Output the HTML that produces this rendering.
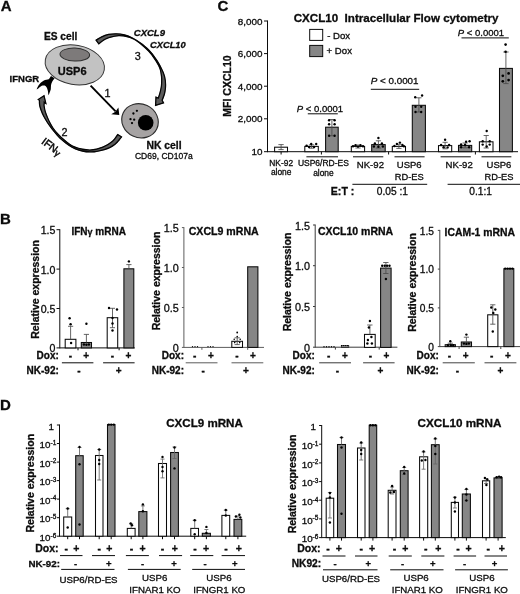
<!DOCTYPE html>
<html lang="en">
<head>
<meta charset="utf-8">
<title>Figure</title>
<style>
html, body { margin: 0; padding: 0; background: #ffffff; }
body { width: 520px; height: 594px; overflow: hidden; }
svg { display: block; }
svg text { font-family: "Liberation Sans", Arial, Helvetica, sans-serif; fill: #0c0c0c; stroke: #0c0c0c; stroke-width: 0.3px; }
</style>
</head>
<body>
<svg width="520" height="594" viewBox="0 0 520 594">
<rect x="0" y="0" width="520" height="594" fill="#ffffff"/>
<text x="0.8" y="11.4" font-size="15" font-weight="bold">A</text>
<text x="0.1" y="224.3" font-size="15" font-weight="bold">B</text>
<text x="217.4" y="11.3" font-size="15" font-weight="bold">C</text>
<text x="0.1" y="409.9" font-size="15" font-weight="bold">D</text>
<clipPath id="ca3"><path d="M95.2 40.1 C96.2 39.5 99.3 37.3 101.5 36.3 C103.7 35.2 106.0 34.3 108.5 33.8 C111.0 33.3 113.8 33.1 116.5 33.2 C119.2 33.3 121.9 33.6 124.6 34.3 C127.3 35.0 130.0 36.1 132.7 37.5 C135.4 38.9 138.0 40.4 140.8 42.4 C143.6 44.4 146.9 47.1 149.4 49.7 C151.9 52.3 154.0 55.2 156.1 58.2 C158.2 61.2 160.3 64.9 161.8 67.9 C163.3 70.9 164.5 73.6 165.2 76.4 C165.9 79.2 166.2 82.1 166.2 84.9 C166.2 87.7 165.8 90.9 165.2 93.4 C164.6 96.0 163.2 99.1 162.8 100.2 L164.4 103.2 L154.9 106.2 L155.4 96.2 L157.9 97.3 C158.2 96.5 159.0 94.3 159.5 92.2 C160.0 90.1 160.7 87.5 160.9 84.9 C161.1 82.3 161.2 79.2 160.9 76.4 C160.6 73.6 160.2 70.7 159.1 67.9 C158.0 65.1 156.1 62.1 154.3 59.4 C152.5 56.7 150.4 54.0 148.2 51.5 C145.9 49.0 143.2 46.7 140.8 44.7 C138.4 42.8 136.1 41.0 133.8 39.8 C131.5 38.5 129.4 37.8 126.9 37.2 C124.4 36.6 121.5 36.2 118.8 36.3 C116.1 36.4 113.3 37.1 110.8 37.8 C108.3 38.5 105.8 39.6 103.8 40.7 C101.8 41.9 99.5 44.0 98.7 44.7 Z"/></clipPath>
<path d="M95.2 40.1 C96.2 39.5 99.3 37.3 101.5 36.3 C103.7 35.2 106.0 34.3 108.5 33.8 C111.0 33.3 113.8 33.1 116.5 33.2 C119.2 33.3 121.9 33.6 124.6 34.3 C127.3 35.0 130.0 36.1 132.7 37.5 C135.4 38.9 138.0 40.4 140.8 42.4 C143.6 44.4 146.9 47.1 149.4 49.7 C151.9 52.3 154.0 55.2 156.1 58.2 C158.2 61.2 160.3 64.9 161.8 67.9 C163.3 70.9 164.5 73.6 165.2 76.4 C165.9 79.2 166.2 82.1 166.2 84.9 C166.2 87.7 165.8 90.9 165.2 93.4 C164.6 96.0 163.2 99.1 162.8 100.2 L164.4 103.2 L154.9 106.2 L155.4 96.2 L157.9 97.3 C158.2 96.5 159.0 94.3 159.5 92.2 C160.0 90.1 160.7 87.5 160.9 84.9 C161.1 82.3 161.2 79.2 160.9 76.4 C160.6 73.6 160.2 70.7 159.1 67.9 C158.0 65.1 156.1 62.1 154.3 59.4 C152.5 56.7 150.4 54.0 148.2 51.5 C145.9 49.0 143.2 46.7 140.8 44.7 C138.4 42.8 136.1 41.0 133.8 39.8 C131.5 38.5 129.4 37.8 126.9 37.2 C124.4 36.6 121.5 36.2 118.8 36.3 C116.1 36.4 113.3 37.1 110.8 37.8 C108.3 38.5 105.8 39.6 103.8 40.7 C101.8 41.9 99.5 44.0 98.7 44.7 Z" fill="#5a5a5a" stroke="#050505" stroke-width="2.5" stroke-linejoin="miter" clip-path="url(#ca3)"/>
<clipPath id="ca2"><path d="M122.4 136.8 C121.2 138.1 118.4 142.6 115.4 144.8 C112.4 147.1 108.8 149.0 104.5 150.3 C100.2 151.6 94.7 152.8 89.8 152.6 C84.9 152.4 79.8 151.3 75.2 149.4 C70.6 147.5 66.3 144.4 62.4 141.1 C58.4 137.8 54.7 133.4 51.5 129.3 C48.3 125.2 45.2 120.3 43.2 116.5 C41.2 112.7 40.0 109.2 39.3 106.5 C38.6 103.8 38.9 101.6 38.8 100.6 L37.2 99.5 L44.4 94.8 L46.8 104.7 L44.8 103.4 C44.8 103.9 44.4 104.6 44.8 106.5 C45.1 108.4 45.5 111.1 46.9 114.6 C48.3 118.1 50.4 123.3 53.3 127.4 C56.2 131.5 60.6 136.1 64.3 139.3 C68.0 142.5 71.0 144.9 75.2 146.6 C79.5 148.3 85.2 149.4 89.8 149.4 C94.4 149.4 98.9 148.0 102.6 146.6 C106.3 145.2 109.3 143.2 111.8 141.1 C114.3 139.0 116.6 135.0 117.6 133.8 Z"/></clipPath>
<path d="M122.4 136.8 C121.2 138.1 118.4 142.6 115.4 144.8 C112.4 147.1 108.8 149.0 104.5 150.3 C100.2 151.6 94.7 152.8 89.8 152.6 C84.9 152.4 79.8 151.3 75.2 149.4 C70.6 147.5 66.3 144.4 62.4 141.1 C58.4 137.8 54.7 133.4 51.5 129.3 C48.3 125.2 45.2 120.3 43.2 116.5 C41.2 112.7 40.0 109.2 39.3 106.5 C38.6 103.8 38.9 101.6 38.8 100.6 L37.2 99.5 L44.4 94.8 L46.8 104.7 L44.8 103.4 C44.8 103.9 44.4 104.6 44.8 106.5 C45.1 108.4 45.5 111.1 46.9 114.6 C48.3 118.1 50.4 123.3 53.3 127.4 C56.2 131.5 60.6 136.1 64.3 139.3 C68.0 142.5 71.0 144.9 75.2 146.6 C79.5 148.3 85.2 149.4 89.8 149.4 C94.4 149.4 98.9 148.0 102.6 146.6 C106.3 145.2 109.3 143.2 111.8 141.1 C114.3 139.0 116.6 135.0 117.6 133.8 Z" fill="#5a5a5a" stroke="#050505" stroke-width="2.5" stroke-linejoin="miter" clip-path="url(#ca2)"/>
<ellipse cx="74.8" cy="64.8" rx="29.9" ry="19.7" transform="rotate(10 74.8 64.8)" fill="#c2c2c2" stroke="#333" stroke-width="1"/>
<ellipse cx="74.8" cy="54.6" rx="14.8" ry="6.5" transform="rotate(2 74.8 54.6)" fill="#7d7a7a" stroke="#2e2e2e" stroke-width="1"/>
<text x="72.2" y="74.8" font-size="11" font-weight="bold" text-anchor="middle">USP6</text>
<text x="60.6" y="40.2" font-size="10.2" font-weight="bold" text-anchor="middle">ES cell</text>
<text x="24.4" y="81.8" font-size="9.5" font-weight="bold" text-anchor="middle">IFNGR</text>
<path d="M36.6 89.4 C36.9 88.8 37.6 86.9 38.3 85.8 C39.0 84.7 39.8 83.5 40.7 82.7 C41.6 81.9 42.5 81.2 43.5 80.7 C44.5 80.2 45.5 80.0 46.4 79.8 C47.3 79.5 48.1 79.5 48.7 79.2 C49.3 78.9 49.5 78.3 49.9 77.8 C50.3 77.3 50.8 76.3 51.0 76.0 L54.6 78.2 C54.2 78.8 52.8 80.6 52.2 81.8 C51.6 83.0 51.2 84.0 51.0 85.3 C50.8 86.5 51.0 87.9 50.8 89.3 C50.5 90.7 49.7 92.4 49.3 93.4 C48.9 94.4 48.5 94.9 48.4 95.2 L47.9 91.0 C47.7 90.4 47.2 88.5 46.7 87.6 C46.2 86.7 45.5 85.9 44.7 85.6 C43.9 85.3 42.8 85.4 41.8 85.8 C40.8 86.2 39.8 87.3 38.9 87.9 C38.0 88.5 37.0 89.2 36.6 89.4 Z" fill="#000"/>
<line x1="90.6" y1="85.6" x2="115.6" y2="111.4" stroke="#000" stroke-width="1.9"/>
<path d="M119.3 115.1 L111.2 114.3 L115.4 111.8 L118.4 107.5 Z" fill="#000"/>
<text x="107.5" y="96.5" font-size="10.8" text-anchor="middle">1</text>
<text x="64.6" y="136.1" font-size="10.8" text-anchor="middle">2</text>
<text x="137.7" y="59.8" font-size="10.8" text-anchor="middle">3</text>
<ellipse cx="140.0" cy="120.8" rx="18.6" ry="16.8" transform="rotate(25 140 120.8)" fill="#a6a3a3" stroke="#2c2c2c" stroke-width="1.1"/>
<circle cx="145.7" cy="122.8" r="7.8" fill="#000"/>
<circle cx="136.9" cy="110.8" r="1.15" fill="#000"/>
<circle cx="133.4" cy="113.5" r="1.15" fill="#000"/>
<circle cx="130.5" cy="119.2" r="1.15" fill="#000"/>
<circle cx="134.2" cy="119.7" r="1.15" fill="#000"/>
<circle cx="132.0" cy="123.1" r="1.15" fill="#000"/>
<text x="164.0" y="149.3" font-size="10.4" font-weight="bold" text-anchor="middle">NK cell</text>
<text x="163.8" y="159.3" font-size="8.5" text-anchor="middle">CD69, CD107a</text>
<text x="133.8" y="36.4" font-size="9.5" font-weight="bold" font-style="italic">CXCL9</text>
<text x="150.0" y="48.0" font-size="9.3" font-weight="bold" font-style="italic">CXCL10</text>
<text transform="translate(40.8 142.9) rotate(37)" font-size="10.6" style="stroke-width:0.5px">IFN<tspan font-size="9" dy="1.2">γ</tspan></text>
<line x1="267.5" y1="20.5" x2="267.5" y2="152.2" stroke="#0c0c0c" stroke-width="1"/>
<line x1="267.5" y1="151.7" x2="518.0" y2="151.7" stroke="#0c0c0c" stroke-width="1"/>
<line x1="264.0" y1="21.0" x2="267.5" y2="21.0" stroke="#0c0c0c" stroke-width="1"/>
<text x="262.5" y="24.5" font-size="9.9" text-anchor="end">8,000</text>
<line x1="264.0" y1="53.6" x2="267.5" y2="53.6" stroke="#0c0c0c" stroke-width="1"/>
<text x="262.5" y="57.1" font-size="9.9" text-anchor="end">6,000</text>
<line x1="264.0" y1="86.2" x2="267.5" y2="86.2" stroke="#0c0c0c" stroke-width="1"/>
<text x="262.5" y="89.7" font-size="9.9" text-anchor="end">4,000</text>
<line x1="264.0" y1="118.8" x2="267.5" y2="118.8" stroke="#0c0c0c" stroke-width="1"/>
<text x="262.5" y="122.3" font-size="9.9" text-anchor="end">2,000</text>
<line x1="264.0" y1="151.7" x2="267.5" y2="151.7" stroke="#0c0c0c" stroke-width="1"/>
<text x="262.5" y="155.2" font-size="9.9" text-anchor="end">10</text>
<text transform="translate(231.3 86.0) rotate(-90)" text-anchor="middle" font-size="10.5" font-weight="bold">MFI CXCL10</text>
<text x="293.7" y="21.8" font-size="11.6" font-weight="bold">CXCL10&#160; Intracellular Flow cytometry</text>
<rect x="309.7" y="29.4" width="13.0" height="11.0" fill="#fff" stroke="#0a0a0a" stroke-width="1"/>
<rect x="309.7" y="45.4" width="13.0" height="11.2" fill="#868686" stroke="#0a0a0a" stroke-width="1"/>
<text x="327.2" y="38.8" font-size="9.6">- Dox</text>
<text x="326.6" y="54.2" font-size="9.6">+ Dox</text>
<rect x="274.6" y="147.2" width="12.9" height="4.5" fill="#fff" stroke="#0a0a0a" stroke-width="1.05"/>
<line x1="281.1" y1="144.6" x2="281.1" y2="149.6" stroke="#4a4a4a" stroke-width="0.85"/>
<line x1="278.4" y1="144.6" x2="283.7" y2="144.6" stroke="#4a4a4a" stroke-width="0.85"/>
<line x1="278.4" y1="149.6" x2="283.7" y2="149.6" stroke="#4a4a4a" stroke-width="0.85"/>
<rect x="304.8" y="146.4" width="13.5" height="5.3" fill="#fff" stroke="#0a0a0a" stroke-width="1.05"/>
<line x1="311.6" y1="144.8" x2="311.6" y2="148.2" stroke="#4a4a4a" stroke-width="0.85"/>
<line x1="308.9" y1="144.8" x2="314.2" y2="144.8" stroke="#4a4a4a" stroke-width="0.85"/>
<line x1="308.9" y1="148.2" x2="314.2" y2="148.2" stroke="#4a4a4a" stroke-width="0.85"/>
<circle cx="306.6" cy="145.6" r="1.2" fill="#000"/>
<circle cx="311.2" cy="144.0" r="1.2" fill="#000"/>
<circle cx="316.2" cy="144.0" r="1.2" fill="#000"/>
<circle cx="309.1" cy="147.0" r="1.2" fill="#000"/>
<circle cx="314.1" cy="147.0" r="1.2" fill="#000"/>
<rect x="325.6" y="127.2" width="12.6" height="24.5" fill="#868686" stroke="#0a0a0a" stroke-width="1.05"/>
<line x1="331.9" y1="119.5" x2="331.9" y2="135.8" stroke="#4a4a4a" stroke-width="0.85"/>
<line x1="329.3" y1="119.5" x2="334.5" y2="119.5" stroke="#4a4a4a" stroke-width="0.85"/>
<line x1="329.3" y1="135.8" x2="334.5" y2="135.8" stroke="#4a4a4a" stroke-width="0.85"/>
<circle cx="329.1" cy="120.2" r="1.2" fill="#000"/>
<circle cx="334.6" cy="120.2" r="1.2" fill="#000"/>
<circle cx="329.1" cy="124.3" r="1.2" fill="#000"/>
<circle cx="334.6" cy="124.3" r="1.2" fill="#000"/>
<circle cx="329.1" cy="135.8" r="1.2" fill="#000"/>
<circle cx="334.6" cy="135.8" r="1.2" fill="#000"/>
<rect x="351.3" y="146.4" width="13.3" height="5.3" fill="#fff" stroke="#0a0a0a" stroke-width="1.05"/>
<line x1="358.0" y1="145.0" x2="358.0" y2="148.0" stroke="#4a4a4a" stroke-width="0.85"/>
<line x1="355.4" y1="145.0" x2="360.6" y2="145.0" stroke="#4a4a4a" stroke-width="0.85"/>
<line x1="355.4" y1="148.0" x2="360.6" y2="148.0" stroke="#4a4a4a" stroke-width="0.85"/>
<circle cx="353.0" cy="146.2" r="1.2" fill="#000"/>
<circle cx="355.5" cy="145.2" r="1.2" fill="#000"/>
<circle cx="358.0" cy="146.6" r="1.2" fill="#000"/>
<circle cx="360.5" cy="145.2" r="1.2" fill="#000"/>
<circle cx="363.0" cy="146.2" r="1.2" fill="#000"/>
<rect x="371.7" y="144.6" width="13.5" height="7.1" fill="#868686" stroke="#0a0a0a" stroke-width="1.05"/>
<line x1="378.4" y1="140.8" x2="378.4" y2="148.0" stroke="#4a4a4a" stroke-width="0.85"/>
<line x1="375.8" y1="140.8" x2="381.1" y2="140.8" stroke="#4a4a4a" stroke-width="0.85"/>
<line x1="375.8" y1="148.0" x2="381.1" y2="148.0" stroke="#4a4a4a" stroke-width="0.85"/>
<circle cx="378.4" cy="138.0" r="1.2" fill="#000"/>
<circle cx="374.9" cy="143.5" r="1.2" fill="#000"/>
<circle cx="381.9" cy="143.5" r="1.2" fill="#000"/>
<circle cx="373.9" cy="146.5" r="1.2" fill="#000"/>
<circle cx="378.4" cy="146.8" r="1.2" fill="#000"/>
<circle cx="382.9" cy="146.5" r="1.2" fill="#000"/>
<rect x="392.3" y="146.4" width="13.2" height="5.3" fill="#fff" stroke="#0a0a0a" stroke-width="1.05"/>
<line x1="398.9" y1="144.2" x2="398.9" y2="148.4" stroke="#4a4a4a" stroke-width="0.85"/>
<line x1="396.3" y1="144.2" x2="401.5" y2="144.2" stroke="#4a4a4a" stroke-width="0.85"/>
<line x1="396.3" y1="148.4" x2="401.5" y2="148.4" stroke="#4a4a4a" stroke-width="0.85"/>
<circle cx="394.4" cy="146.0" r="1.2" fill="#000"/>
<circle cx="396.9" cy="144.0" r="1.2" fill="#000"/>
<circle cx="399.9" cy="142.6" r="1.2" fill="#000"/>
<circle cx="402.4" cy="145.0" r="1.2" fill="#000"/>
<circle cx="403.9" cy="146.2" r="1.2" fill="#000"/>
<rect x="412.3" y="105.3" width="13.1" height="46.4" fill="#868686" stroke="#0a0a0a" stroke-width="1.05"/>
<line x1="418.9" y1="97.8" x2="418.9" y2="112.0" stroke="#4a4a4a" stroke-width="0.85"/>
<line x1="416.2" y1="97.8" x2="421.5" y2="97.8" stroke="#4a4a4a" stroke-width="0.85"/>
<line x1="416.2" y1="112.0" x2="421.5" y2="112.0" stroke="#4a4a4a" stroke-width="0.85"/>
<circle cx="415.2" cy="97.3" r="1.2" fill="#000"/>
<circle cx="422.1" cy="95.5" r="1.2" fill="#000"/>
<circle cx="415.5" cy="106.8" r="1.2" fill="#000"/>
<circle cx="421.2" cy="106.8" r="1.2" fill="#000"/>
<circle cx="415.5" cy="112.0" r="1.2" fill="#000"/>
<circle cx="421.2" cy="112.0" r="1.2" fill="#000"/>
<rect x="438.5" y="145.6" width="13.2" height="6.1" fill="#fff" stroke="#0a0a0a" stroke-width="1.05"/>
<line x1="445.1" y1="142.3" x2="445.1" y2="148.8" stroke="#4a4a4a" stroke-width="0.85"/>
<line x1="442.5" y1="142.3" x2="447.7" y2="142.3" stroke="#4a4a4a" stroke-width="0.85"/>
<line x1="442.5" y1="148.8" x2="447.7" y2="148.8" stroke="#4a4a4a" stroke-width="0.85"/>
<circle cx="445.1" cy="139.8" r="1.2" fill="#000"/>
<circle cx="441.1" cy="145.0" r="1.2" fill="#000"/>
<circle cx="449.1" cy="145.0" r="1.2" fill="#000"/>
<circle cx="443.6" cy="147.2" r="1.2" fill="#000"/>
<circle cx="447.6" cy="147.4" r="1.2" fill="#000"/>
<rect x="458.5" y="145.4" width="13.2" height="6.3" fill="#868686" stroke="#0a0a0a" stroke-width="1.05"/>
<line x1="465.1" y1="143.0" x2="465.1" y2="147.8" stroke="#4a4a4a" stroke-width="0.85"/>
<line x1="462.5" y1="143.0" x2="467.7" y2="143.0" stroke="#4a4a4a" stroke-width="0.85"/>
<line x1="462.5" y1="147.8" x2="467.7" y2="147.8" stroke="#4a4a4a" stroke-width="0.85"/>
<circle cx="466.1" cy="141.8" r="1.2" fill="#000"/>
<circle cx="469.6" cy="141.2" r="1.2" fill="#000"/>
<circle cx="461.1" cy="144.5" r="1.2" fill="#000"/>
<circle cx="465.1" cy="145.0" r="1.2" fill="#000"/>
<circle cx="461.1" cy="147.3" r="1.2" fill="#000"/>
<circle cx="469.1" cy="147.3" r="1.2" fill="#000"/>
<rect x="479.4" y="141.8" width="13.6" height="9.9" fill="#fff" stroke="#0a0a0a" stroke-width="1.05"/>
<line x1="486.2" y1="135.5" x2="486.2" y2="148.0" stroke="#4a4a4a" stroke-width="0.85"/>
<line x1="483.6" y1="135.5" x2="488.8" y2="135.5" stroke="#4a4a4a" stroke-width="0.85"/>
<line x1="483.6" y1="148.0" x2="488.8" y2="148.0" stroke="#4a4a4a" stroke-width="0.85"/>
<circle cx="486.7" cy="131.0" r="1.2" fill="#000"/>
<circle cx="482.7" cy="141.3" r="1.2" fill="#000"/>
<circle cx="489.7" cy="141.3" r="1.2" fill="#000"/>
<circle cx="482.7" cy="144.6" r="1.2" fill="#000"/>
<circle cx="486.7" cy="146.5" r="1.2" fill="#000"/>
<circle cx="489.7" cy="144.6" r="1.2" fill="#000"/>
<rect x="499.5" y="68.4" width="12.9" height="83.3" fill="#868686" stroke="#0a0a0a" stroke-width="1.05"/>
<line x1="505.9" y1="52.0" x2="505.9" y2="83.6" stroke="#4a4a4a" stroke-width="0.85"/>
<line x1="503.3" y1="52.0" x2="508.6" y2="52.0" stroke="#4a4a4a" stroke-width="0.85"/>
<line x1="503.3" y1="83.6" x2="508.6" y2="83.6" stroke="#4a4a4a" stroke-width="0.85"/>
<circle cx="505.6" cy="44.6" r="1.3" fill="#000"/>
<circle cx="505.6" cy="51.8" r="1.3" fill="#000"/>
<circle cx="508.6" cy="73.4" r="1.35" fill="#000"/>
<circle cx="502.8" cy="75.8" r="1.35" fill="#000"/>
<circle cx="508.6" cy="80.1" r="1.35" fill="#000"/>
<circle cx="502.8" cy="81.3" r="1.35" fill="#000"/>
<line x1="281.1" y1="151.7" x2="281.1" y2="154.5" stroke="#0c0c0c" stroke-width="1"/>
<line x1="321.4" y1="151.7" x2="321.4" y2="154.5" stroke="#0c0c0c" stroke-width="1"/>
<line x1="388.6" y1="151.7" x2="388.6" y2="154.5" stroke="#0c0c0c" stroke-width="1"/>
<line x1="475.4" y1="151.7" x2="475.4" y2="154.5" stroke="#0c0c0c" stroke-width="1"/>
<text x="296.8" y="111.6" font-size="9.5"><tspan font-style="italic">P</tspan> &lt; 0.0001</text>
<line x1="307.8" y1="113.8" x2="337.8" y2="113.8" stroke="#0c0c0c" stroke-width="1"/>
<text x="370.8" y="83.5" font-size="9.8"><tspan font-style="italic">P</tspan> &lt; 0.0001</text>
<line x1="370.8" y1="89.3" x2="419.2" y2="89.3" stroke="#0c0c0c" stroke-width="1"/>
<text x="457.8" y="35.6" font-size="9.5"><tspan font-style="italic">P</tspan> &lt; 0.0001</text>
<line x1="461.5" y1="37.9" x2="508.8" y2="37.9" stroke="#0c0c0c" stroke-width="1"/>
<line x1="306.4" y1="156.8" x2="338.0" y2="156.8" stroke="#0c0c0c" stroke-width="1"/>
<line x1="353.0" y1="156.8" x2="383.3" y2="156.8" stroke="#0c0c0c" stroke-width="1"/>
<line x1="394.5" y1="156.8" x2="424.6" y2="156.8" stroke="#0c0c0c" stroke-width="1"/>
<line x1="440.6" y1="156.8" x2="470.8" y2="156.8" stroke="#0c0c0c" stroke-width="1"/>
<line x1="481.5" y1="156.8" x2="511.4" y2="156.8" stroke="#0c0c0c" stroke-width="1"/>
<text x="281.2" y="165.6" font-size="8.4" text-anchor="middle">NK-92</text>
<text x="281.2" y="175.4" font-size="8.4" text-anchor="middle">alone</text>
<text x="323.4" y="166.4" font-size="8.5" text-anchor="middle">USP6/RD-ES</text>
<text x="323.4" y="176.4" font-size="8.4" text-anchor="middle">alone</text>
<text x="370.4" y="168.4" font-size="9.6" text-anchor="middle">NK-92</text>
<text x="409.2" y="168.2" font-size="9.5" text-anchor="middle">USP6</text>
<text x="409.2" y="180.1" font-size="9.3" text-anchor="middle">RD-ES</text>
<text x="459.2" y="168.4" font-size="9.6" text-anchor="middle">NK-92</text>
<text x="499.0" y="168.2" font-size="9.5" text-anchor="middle">USP6</text>
<text x="499.0" y="180.1" font-size="9.3" text-anchor="middle">RD-ES</text>
<line x1="352.4" y1="184.3" x2="427.2" y2="184.3" stroke="#0c0c0c" stroke-width="1"/>
<line x1="447.6" y1="184.3" x2="520.0" y2="184.3" stroke="#0c0c0c" stroke-width="1"/>
<text x="330.8" y="195.0" font-size="10.6" font-weight="bold">E:T :</text>
<text x="392.3" y="195.1" font-size="10.2" text-anchor="middle">0.05 :1</text>
<text x="480.6" y="195.1" font-size="10.2" text-anchor="middle">0.1:1</text>
<line x1="59.8" y1="229.2" x2="59.8" y2="348.4" stroke="#0c0c0c" stroke-width="1"/>
<line x1="59.8" y1="347.9" x2="134.8" y2="347.9" stroke="#0c0c0c" stroke-width="1"/>
<line x1="56.5" y1="347.9" x2="59.8" y2="347.9" stroke="#0c0c0c" stroke-width="1"/>
<text x="55.4" y="352.3" font-size="10.6" text-anchor="end">0</text>
<line x1="56.5" y1="308.5" x2="59.8" y2="308.5" stroke="#0c0c0c" stroke-width="1"/>
<text x="55.4" y="312.9" font-size="10.6" text-anchor="end">0.5</text>
<line x1="56.5" y1="269.1" x2="59.8" y2="269.1" stroke="#0c0c0c" stroke-width="1"/>
<text x="55.4" y="273.5" font-size="10.6" text-anchor="end">1.0</text>
<line x1="56.5" y1="229.7" x2="59.8" y2="229.7" stroke="#0c0c0c" stroke-width="1"/>
<text x="55.4" y="234.1" font-size="10.6" text-anchor="end">1.5</text>
<text x="71.4" y="235.4" font-size="10" font-weight="bold">IFN<tspan font-size="9">γ</tspan> mRNA</text>
<text transform="translate(38.8 289.4) rotate(-90)" text-anchor="middle" font-size="10.5" font-weight="bold">Relative expression</text>
<rect x="65.2" y="339.3" width="10.7" height="8.6" fill="#fff" stroke="#0a0a0a" stroke-width="1.05"/>
<line x1="70.6" y1="326.3" x2="70.6" y2="339.3" stroke="#4a4a4a" stroke-width="0.85"/>
<line x1="68.0" y1="326.3" x2="73.2" y2="326.3" stroke="#4a4a4a" stroke-width="0.85"/>
<circle cx="69.6" cy="318.3" r="1.2" fill="#000"/>
<circle cx="70.6" cy="324.2" r="1.2" fill="#000"/>
<circle cx="71.1" cy="343.0" r="1.2" fill="#000"/>
<rect x="81.3" y="342.5" width="10.2" height="5.4" fill="#868686" stroke="#0a0a0a" stroke-width="1.05"/>
<line x1="86.4" y1="334.4" x2="86.4" y2="342.5" stroke="#4a4a4a" stroke-width="0.85"/>
<line x1="83.8" y1="334.4" x2="89.0" y2="334.4" stroke="#4a4a4a" stroke-width="0.85"/>
<circle cx="86.4" cy="323.7" r="1.2" fill="#000"/>
<circle cx="83.9" cy="344.5" r="1.2" fill="#000"/>
<circle cx="86.4" cy="344.8" r="1.2" fill="#000"/>
<circle cx="88.9" cy="344.5" r="1.2" fill="#000"/>
<rect x="107.2" y="317.7" width="10.5" height="30.2" fill="#fff" stroke="#0a0a0a" stroke-width="1.05"/>
<line x1="112.5" y1="308.3" x2="112.5" y2="327.7" stroke="#4a4a4a" stroke-width="0.85"/>
<line x1="109.9" y1="308.3" x2="115.0" y2="308.3" stroke="#4a4a4a" stroke-width="0.85"/>
<line x1="109.9" y1="327.7" x2="115.0" y2="327.7" stroke="#4a4a4a" stroke-width="0.85"/>
<circle cx="109.0" cy="308.0" r="1.2" fill="#000"/>
<circle cx="117.0" cy="309.5" r="1.2" fill="#000"/>
<circle cx="112.5" cy="318.0" r="1.2" fill="#000"/>
<circle cx="112.5" cy="323.5" r="1.2" fill="#000"/>
<circle cx="112.5" cy="330.5" r="1.2" fill="#000"/>
<rect x="123.9" y="268.8" width="9.9" height="79.1" fill="#868686" stroke="#0a0a0a" stroke-width="1.05"/>
<line x1="128.9" y1="264.6" x2="128.9" y2="268.8" stroke="#4a4a4a" stroke-width="0.85"/>
<line x1="126.3" y1="264.6" x2="131.5" y2="264.6" stroke="#4a4a4a" stroke-width="0.85"/>
<circle cx="128.9" cy="261.4" r="1.2" fill="#000"/>
<text x="58.8" y="358.9" font-size="10" font-weight="bold" text-anchor="end">Dox:</text>
<text x="58.8" y="373.8" font-size="10" font-weight="bold" text-anchor="end">NK-92:</text>
<text x="70.5" y="359.2" font-size="10" font-weight="bold" text-anchor="middle">-</text>
<text x="86.2" y="359.0" font-size="10" font-weight="bold" text-anchor="middle">+</text>
<text x="112.3" y="359.2" font-size="10" font-weight="bold" text-anchor="middle">-</text>
<text x="128.4" y="359.0" font-size="10" font-weight="bold" text-anchor="middle">+</text>
<line x1="61.9" y1="362.8" x2="93.4" y2="362.8" stroke="#0c0c0c" stroke-width="1"/>
<line x1="78.0" y1="347.9" x2="78.0" y2="350.3" stroke="#0c0c0c" stroke-width="1"/>
<line x1="103.1" y1="362.8" x2="134.6" y2="362.8" stroke="#0c0c0c" stroke-width="1"/>
<line x1="119.1" y1="347.9" x2="119.1" y2="350.3" stroke="#0c0c0c" stroke-width="1"/>
<text x="78.9" y="374.0" font-size="10" font-weight="bold" text-anchor="middle">-</text>
<text x="118.7" y="373.8" font-size="10" font-weight="bold" text-anchor="middle">+</text>
<line x1="183.9" y1="227.1" x2="183.9" y2="347.9" stroke="#5c5c5c" stroke-width="1"/>
<line x1="183.9" y1="347.4" x2="264.0" y2="347.4" stroke="#5c5c5c" stroke-width="1"/>
<line x1="181.9" y1="347.4" x2="183.9" y2="347.4" stroke="#5c5c5c" stroke-width="1"/>
<text x="178.8" y="351.9" font-size="10.8" text-anchor="end">0</text>
<line x1="181.9" y1="307.5" x2="183.9" y2="307.5" stroke="#5c5c5c" stroke-width="1"/>
<text x="178.8" y="311.9" font-size="10.8" text-anchor="end">0.5</text>
<line x1="181.9" y1="267.5" x2="183.9" y2="267.5" stroke="#5c5c5c" stroke-width="1"/>
<text x="178.8" y="272.0" font-size="10.8" text-anchor="end">1.0</text>
<line x1="181.9" y1="227.6" x2="183.9" y2="227.6" stroke="#5c5c5c" stroke-width="1"/>
<text x="178.8" y="232.1" font-size="10.8" text-anchor="end">1.5</text>
<text x="188.7" y="235.1" font-size="10.6" font-weight="bold">CXCL9 mRNA</text>
<text transform="translate(159.8 281.0) rotate(-90)" text-anchor="middle" font-size="10.5" font-weight="bold">Relative expression</text>
<rect x="231.8" y="341.3" width="10.7" height="6.1" fill="#fff" stroke="#0a0a0a" stroke-width="1.05"/>
<line x1="237.2" y1="337.8" x2="237.2" y2="344.6" stroke="#4a4a4a" stroke-width="0.85"/>
<line x1="234.6" y1="337.8" x2="239.8" y2="337.8" stroke="#4a4a4a" stroke-width="0.85"/>
<line x1="234.6" y1="344.6" x2="239.8" y2="344.6" stroke="#4a4a4a" stroke-width="0.85"/>
<circle cx="237.2" cy="332.5" r="0.9" fill="#000"/>
<circle cx="234.2" cy="339.2" r="0.8" fill="#000"/>
<circle cx="240.2" cy="339.2" r="0.8" fill="#000"/>
<circle cx="237.2" cy="336.6" r="0.8" fill="#000"/>
<circle cx="234.7" cy="342.6" r="0.8" fill="#000"/>
<circle cx="239.7" cy="342.6" r="0.8" fill="#000"/>
<rect x="247.7" y="266.8" width="10.2" height="80.6" fill="#868686" stroke="#0a0a0a" stroke-width="1.05"/>
<text x="184.0" y="358.9" font-size="10" font-weight="bold" text-anchor="end">Dox:</text>
<text x="184.0" y="373.8" font-size="10" font-weight="bold" text-anchor="end">NK-92:</text>
<text x="194.6" y="359.2" font-size="10" font-weight="bold" text-anchor="middle">-</text>
<text x="210.8" y="359.0" font-size="10" font-weight="bold" text-anchor="middle">+</text>
<text x="236.9" y="359.2" font-size="10" font-weight="bold" text-anchor="middle">-</text>
<text x="253.0" y="359.0" font-size="10" font-weight="bold" text-anchor="middle">+</text>
<line x1="185.7" y1="362.8" x2="217.5" y2="362.8" stroke="#5c5c5c" stroke-width="1"/>
<line x1="201.9" y1="347.4" x2="201.9" y2="349.8" stroke="#5c5c5c" stroke-width="1"/>
<line x1="231.5" y1="362.8" x2="263.3" y2="362.8" stroke="#5c5c5c" stroke-width="1"/>
<line x1="247.7" y1="347.4" x2="247.7" y2="349.8" stroke="#5c5c5c" stroke-width="1"/>
<text x="203.2" y="374.0" font-size="10" font-weight="bold" text-anchor="middle">-</text>
<text x="245.8" y="373.8" font-size="10" font-weight="bold" text-anchor="middle">+</text>
<line x1="315.2" y1="224.5" x2="315.2" y2="347.7" stroke="#3a3a3a" stroke-width="1"/>
<line x1="315.2" y1="347.2" x2="397.4" y2="347.2" stroke="#3a3a3a" stroke-width="1"/>
<line x1="313.0" y1="347.2" x2="315.2" y2="347.2" stroke="#3a3a3a" stroke-width="1"/>
<text x="310.0" y="351.7" font-size="10.8" text-anchor="end">0</text>
<line x1="313.0" y1="306.5" x2="315.2" y2="306.5" stroke="#3a3a3a" stroke-width="1"/>
<text x="310.0" y="310.9" font-size="10.8" text-anchor="end">0.5</text>
<line x1="313.0" y1="265.7" x2="315.2" y2="265.7" stroke="#3a3a3a" stroke-width="1"/>
<text x="310.0" y="270.2" font-size="10.8" text-anchor="end">1.0</text>
<line x1="313.0" y1="225.0" x2="315.2" y2="225.0" stroke="#3a3a3a" stroke-width="1"/>
<text x="310.0" y="229.5" font-size="10.8" text-anchor="end">1.5</text>
<text x="317.9" y="235.1" font-size="10.5" font-weight="bold">CXCL10 mRNA</text>
<text transform="translate(290.8 282.0) rotate(-90)" text-anchor="middle" font-size="10.5" font-weight="bold">Relative expression</text>
<rect x="364.5" y="334.4" width="10.7" height="13.0" fill="#fff" stroke="#0a0a0a" stroke-width="1.05"/>
<line x1="369.9" y1="325.0" x2="369.9" y2="334.4" stroke="#4a4a4a" stroke-width="0.85"/>
<line x1="367.2" y1="325.0" x2="372.5" y2="325.0" stroke="#4a4a4a" stroke-width="0.85"/>
<circle cx="369.9" cy="321.0" r="1.2" fill="#000"/>
<circle cx="368.9" cy="327.5" r="1.2" fill="#000"/>
<circle cx="371.4" cy="337.0" r="1.2" fill="#000"/>
<circle cx="367.9" cy="340.0" r="1.2" fill="#000"/>
<circle cx="367.4" cy="343.5" r="1.2" fill="#000"/>
<circle cx="371.9" cy="343.5" r="1.2" fill="#000"/>
<rect x="380.6" y="268.1" width="10.5" height="79.3" fill="#868686" stroke="#0a0a0a" stroke-width="1.05"/>
<line x1="385.9" y1="262.5" x2="385.9" y2="273.5" stroke="#4a4a4a" stroke-width="0.85"/>
<line x1="383.2" y1="262.5" x2="388.5" y2="262.5" stroke="#4a4a4a" stroke-width="0.85"/>
<line x1="383.2" y1="273.5" x2="388.5" y2="273.5" stroke="#4a4a4a" stroke-width="0.85"/>
<circle cx="382.2" cy="265.8" r="1.2" fill="#000"/>
<circle cx="384.7" cy="265.8" r="1.2" fill="#000"/>
<circle cx="387.1" cy="265.8" r="1.2" fill="#000"/>
<circle cx="389.5" cy="265.8" r="1.2" fill="#000"/>
<circle cx="385.9" cy="279.0" r="1.2" fill="#000"/>
<text x="314.8" y="358.9" font-size="10" font-weight="bold" text-anchor="end">Dox:</text>
<text x="314.8" y="373.8" font-size="10" font-weight="bold" text-anchor="end">NK-92:</text>
<text x="328.7" y="359.2" font-size="10" font-weight="bold" text-anchor="middle">-</text>
<text x="344.8" y="359.0" font-size="10" font-weight="bold" text-anchor="middle">+</text>
<text x="370.4" y="359.2" font-size="10" font-weight="bold" text-anchor="middle">-</text>
<text x="386.5" y="359.0" font-size="10" font-weight="bold" text-anchor="middle">+</text>
<line x1="319.2" y1="362.8" x2="351.0" y2="362.8" stroke="#3a3a3a" stroke-width="1"/>
<line x1="335.4" y1="347.2" x2="335.4" y2="349.6" stroke="#3a3a3a" stroke-width="1"/>
<line x1="363.1" y1="362.8" x2="394.6" y2="362.8" stroke="#3a3a3a" stroke-width="1"/>
<line x1="379.2" y1="347.2" x2="379.2" y2="349.6" stroke="#3a3a3a" stroke-width="1"/>
<text x="337.5" y="374.0" font-size="10" font-weight="bold" text-anchor="middle">-</text>
<text x="380.4" y="373.8" font-size="10" font-weight="bold" text-anchor="middle">+</text>
<line x1="439.8" y1="229.9" x2="439.8" y2="347.1" stroke="#444" stroke-width="1"/>
<line x1="439.8" y1="346.6" x2="520.0" y2="346.6" stroke="#444" stroke-width="1"/>
<line x1="437.8" y1="346.6" x2="439.8" y2="346.6" stroke="#444" stroke-width="1"/>
<text x="433.9" y="350.9" font-size="10.2" text-anchor="end">0</text>
<line x1="437.8" y1="307.9" x2="439.8" y2="307.9" stroke="#444" stroke-width="1"/>
<text x="433.9" y="312.1" font-size="10.2" text-anchor="end">0.5</text>
<line x1="437.8" y1="269.1" x2="439.8" y2="269.1" stroke="#444" stroke-width="1"/>
<text x="433.9" y="273.4" font-size="10.2" text-anchor="end">1.0</text>
<line x1="437.8" y1="230.4" x2="439.8" y2="230.4" stroke="#444" stroke-width="1"/>
<text x="433.9" y="234.7" font-size="10.2" text-anchor="end">1.5</text>
<text x="444.6" y="235.5" font-size="10.4" font-weight="bold">ICAM-1 mRNA</text>
<text transform="translate(416.1 282.5) rotate(-90)" text-anchor="middle" font-size="10.5" font-weight="bold">Relative expression</text>
<rect x="445.2" y="344.7" width="10.2" height="1.9" fill="#fff" stroke="#0a0a0a" stroke-width="1.05"/>
<line x1="450.3" y1="343.2" x2="450.3" y2="344.7" stroke="#4a4a4a" stroke-width="0.85"/>
<line x1="447.7" y1="343.2" x2="452.9" y2="343.2" stroke="#4a4a4a" stroke-width="0.85"/>
<circle cx="450.3" cy="341.3" r="1.2" fill="#000"/>
<circle cx="447.8" cy="345.2" r="1.2" fill="#000"/>
<circle cx="450.8" cy="345.2" r="1.2" fill="#000"/>
<circle cx="453.3" cy="345.2" r="1.2" fill="#000"/>
<rect x="461.3" y="342.0" width="10.2" height="4.6" fill="#868686" stroke="#0a0a0a" stroke-width="1.05"/>
<line x1="466.4" y1="337.2" x2="466.4" y2="342.0" stroke="#4a4a4a" stroke-width="0.85"/>
<line x1="463.8" y1="337.2" x2="469.0" y2="337.2" stroke="#4a4a4a" stroke-width="0.85"/>
<circle cx="466.4" cy="334.6" r="1.2" fill="#000"/>
<circle cx="463.9" cy="343.6" r="1.2" fill="#000"/>
<circle cx="466.4" cy="343.9" r="1.2" fill="#000"/>
<circle cx="468.9" cy="343.6" r="1.2" fill="#000"/>
<rect x="487.7" y="314.8" width="10.2" height="31.8" fill="#fff" stroke="#0a0a0a" stroke-width="1.05"/>
<line x1="492.8" y1="304.8" x2="492.8" y2="324.2" stroke="#4a4a4a" stroke-width="0.85"/>
<line x1="490.2" y1="304.8" x2="495.4" y2="304.8" stroke="#4a4a4a" stroke-width="0.85"/>
<line x1="490.2" y1="324.2" x2="495.4" y2="324.2" stroke="#4a4a4a" stroke-width="0.85"/>
<circle cx="491.3" cy="307.5" r="1.2" fill="#000"/>
<circle cx="495.3" cy="309.5" r="1.2" fill="#000"/>
<circle cx="493.3" cy="313.0" r="1.2" fill="#000"/>
<circle cx="492.8" cy="331.5" r="1.2" fill="#000"/>
<rect x="503.9" y="268.7" width="9.9" height="77.9" fill="#868686" stroke="#0a0a0a" stroke-width="1.05"/>
<circle cx="505.2" cy="268.6" r="1.2" fill="#000"/>
<circle cx="507.6" cy="268.6" r="1.2" fill="#000"/>
<circle cx="510.0" cy="268.6" r="1.2" fill="#000"/>
<circle cx="512.4" cy="268.6" r="1.2" fill="#000"/>
<text x="438.8" y="358.9" font-size="10" font-weight="bold" text-anchor="end">Dox:</text>
<text x="438.8" y="373.8" font-size="10" font-weight="bold" text-anchor="end">NK-92:</text>
<text x="449.5" y="359.2" font-size="10" font-weight="bold" text-anchor="middle">-</text>
<text x="465.6" y="359.0" font-size="10" font-weight="bold" text-anchor="middle">+</text>
<text x="491.7" y="359.2" font-size="10" font-weight="bold" text-anchor="middle">-</text>
<text x="507.9" y="359.0" font-size="10" font-weight="bold" text-anchor="middle">+</text>
<line x1="442.7" y1="362.8" x2="474.8" y2="362.8" stroke="#444" stroke-width="1"/>
<line x1="459.1" y1="346.6" x2="459.1" y2="349.0" stroke="#444" stroke-width="1"/>
<line x1="484.5" y1="362.8" x2="516.4" y2="362.8" stroke="#444" stroke-width="1"/>
<line x1="500.8" y1="346.6" x2="500.8" y2="349.0" stroke="#444" stroke-width="1"/>
<text x="457.5" y="374.0" font-size="10" font-weight="bold" text-anchor="middle">-</text>
<text x="500.4" y="373.8" font-size="10" font-weight="bold" text-anchor="middle">+</text>
<circle cx="192.5" cy="346.6" r="0.7" fill="#000"/>
<circle cx="195.0" cy="346.6" r="0.7" fill="#000"/>
<circle cx="197.5" cy="346.6" r="0.7" fill="#000"/>
<circle cx="208.0" cy="346.6" r="0.7" fill="#000"/>
<circle cx="210.5" cy="346.6" r="0.7" fill="#000"/>
<circle cx="213.0" cy="346.6" r="0.7" fill="#000"/>
<circle cx="324.0" cy="346.8" r="0.7" fill="#000"/>
<circle cx="326.5" cy="346.8" r="0.7" fill="#000"/>
<circle cx="329.0" cy="346.8" r="0.7" fill="#000"/>
<circle cx="331.5" cy="346.8" r="0.7" fill="#000"/>
<circle cx="334.0" cy="346.8" r="0.7" fill="#000"/>
<rect x="341.5" y="345.6" width="7.3" height="1.8" fill="#868686" stroke="#0a0a0a" stroke-width="0.6"/>
<circle cx="341.5" cy="345.6" r="0.7" fill="#000"/>
<circle cx="343.5" cy="345.6" r="0.7" fill="#000"/>
<circle cx="345.5" cy="345.6" r="0.7" fill="#000"/>
<circle cx="347.5" cy="345.6" r="0.7" fill="#000"/>
<line x1="59.5" y1="424.5" x2="59.5" y2="536.7" stroke="#0c0c0c" stroke-width="1"/>
<line x1="59.5" y1="536.2" x2="246.2" y2="536.2" stroke="#0c0c0c" stroke-width="1"/>
<line x1="56.9" y1="425.0" x2="59.5" y2="425.0" stroke="#0c0c0c" stroke-width="1"/>
<text x="53.9" y="429.7" font-size="9.8" text-anchor="end">1</text>
<line x1="56.9" y1="443.5" x2="59.5" y2="443.5" stroke="#0c0c0c" stroke-width="1"/>
<text x="56.3" y="448.1" text-anchor="end" font-size="9.8">10<tspan font-size="6.5" dy="-3.3">-1</tspan></text>
<line x1="56.9" y1="462.1" x2="59.5" y2="462.1" stroke="#0c0c0c" stroke-width="1"/>
<text x="56.3" y="466.7" text-anchor="end" font-size="9.8">10<tspan font-size="6.5" dy="-3.3">-2</tspan></text>
<line x1="56.9" y1="480.6" x2="59.5" y2="480.6" stroke="#0c0c0c" stroke-width="1"/>
<text x="56.3" y="485.2" text-anchor="end" font-size="9.8">10<tspan font-size="6.5" dy="-3.3">-3</tspan></text>
<line x1="56.9" y1="499.1" x2="59.5" y2="499.1" stroke="#0c0c0c" stroke-width="1"/>
<text x="56.3" y="503.7" text-anchor="end" font-size="9.8">10<tspan font-size="6.5" dy="-3.3">-4</tspan></text>
<line x1="56.9" y1="517.7" x2="59.5" y2="517.7" stroke="#0c0c0c" stroke-width="1"/>
<text x="56.3" y="522.3" text-anchor="end" font-size="9.8">10<tspan font-size="6.5" dy="-3.3">-5</tspan></text>
<line x1="56.9" y1="536.2" x2="59.5" y2="536.2" stroke="#0c0c0c" stroke-width="1"/>
<text x="56.3" y="540.8" text-anchor="end" font-size="9.8">10<tspan font-size="6.5" dy="-3.3">-6</tspan></text>
<text transform="translate(33.8 483.2) rotate(-90)" text-anchor="middle" font-size="10.5" font-weight="bold">Relative expression</text>
<text x="166.2" y="426.7" font-size="11.6" font-weight="bold">CXCL9 mRNA</text>
<rect x="63.7" y="517.0" width="8.0" height="19.2" fill="#fff" stroke="#0a0a0a" stroke-width="1.05"/>
<line x1="67.7" y1="508.7" x2="67.7" y2="517.0" stroke="#666" stroke-width="0.85"/>
<line x1="65.7" y1="508.7" x2="69.7" y2="508.7" stroke="#666" stroke-width="0.85"/>
<circle cx="67.7" cy="508.5" r="1.2" fill="#000"/>
<circle cx="67.7" cy="527.5" r="1.2" fill="#000"/>
<line x1="67.7" y1="536.2" x2="67.7" y2="539.2" stroke="#0c0c0c" stroke-width="1"/>
<rect x="75.7" y="455.7" width="7.5" height="80.5" fill="#868686" stroke="#0a0a0a" stroke-width="1.05"/>
<line x1="79.5" y1="447.5" x2="79.5" y2="455.7" stroke="#666" stroke-width="0.85"/>
<line x1="77.5" y1="447.5" x2="81.5" y2="447.5" stroke="#666" stroke-width="0.85"/>
<circle cx="79.5" cy="447.0" r="1.2" fill="#000"/>
<circle cx="79.5" cy="464.2" r="1.2" fill="#000"/>
<circle cx="79.5" cy="524.5" r="1.2" fill="#000"/>
<line x1="79.5" y1="536.2" x2="79.5" y2="539.2" stroke="#0c0c0c" stroke-width="1"/>
<rect x="95.5" y="455.5" width="7.5" height="80.7" fill="#fff" stroke="#0a0a0a" stroke-width="1.05"/>
<line x1="99.2" y1="449.5" x2="99.2" y2="480.0" stroke="#666" stroke-width="0.85"/>
<line x1="97.2" y1="449.5" x2="101.2" y2="449.5" stroke="#666" stroke-width="0.85"/>
<line x1="97.2" y1="480.0" x2="101.2" y2="480.0" stroke="#666" stroke-width="0.85"/>
<circle cx="99.2" cy="449.5" r="1.2" fill="#000"/>
<circle cx="99.2" cy="460.0" r="1.2" fill="#000"/>
<circle cx="99.2" cy="464.0" r="1.2" fill="#000"/>
<line x1="99.2" y1="536.2" x2="99.2" y2="539.2" stroke="#0c0c0c" stroke-width="1"/>
<rect x="107.5" y="424.6" width="7.5" height="111.6" fill="#868686" stroke="#0a0a0a" stroke-width="1.05"/>
<circle cx="108.8" cy="424.6" r="1.2" fill="#000"/>
<circle cx="111.2" cy="424.6" r="1.2" fill="#000"/>
<circle cx="113.8" cy="424.6" r="1.2" fill="#000"/>
<line x1="111.2" y1="536.2" x2="111.2" y2="539.2" stroke="#0c0c0c" stroke-width="1"/>
<rect x="127.3" y="528.4" width="7.8" height="7.8" fill="#fff" stroke="#0a0a0a" stroke-width="1.05"/>
<line x1="131.2" y1="523.8" x2="131.2" y2="528.4" stroke="#666" stroke-width="0.85"/>
<line x1="129.2" y1="523.8" x2="133.2" y2="523.8" stroke="#666" stroke-width="0.85"/>
<circle cx="130.7" cy="523.5" r="1.2" fill="#000"/>
<circle cx="132.0" cy="525.3" r="1.2" fill="#000"/>
<line x1="131.2" y1="536.2" x2="131.2" y2="539.2" stroke="#0c0c0c" stroke-width="1"/>
<rect x="138.8" y="511.6" width="8.1" height="24.6" fill="#868686" stroke="#0a0a0a" stroke-width="1.05"/>
<line x1="142.9" y1="505.9" x2="142.9" y2="511.6" stroke="#666" stroke-width="0.85"/>
<line x1="140.9" y1="505.9" x2="144.9" y2="505.9" stroke="#666" stroke-width="0.85"/>
<circle cx="142.9" cy="504.4" r="1.2" fill="#000"/>
<circle cx="142.9" cy="511.3" r="1.2" fill="#000"/>
<line x1="142.9" y1="536.2" x2="142.9" y2="539.2" stroke="#0c0c0c" stroke-width="1"/>
<rect x="158.5" y="463.5" width="8.0" height="72.7" fill="#fff" stroke="#0a0a0a" stroke-width="1.05"/>
<line x1="162.5" y1="459.1" x2="162.5" y2="477.9" stroke="#666" stroke-width="0.85"/>
<line x1="160.5" y1="459.1" x2="164.5" y2="459.1" stroke="#666" stroke-width="0.85"/>
<line x1="160.5" y1="477.9" x2="164.5" y2="477.9" stroke="#666" stroke-width="0.85"/>
<circle cx="162.5" cy="457.0" r="1.2" fill="#000"/>
<circle cx="162.5" cy="467.0" r="1.2" fill="#000"/>
<circle cx="162.5" cy="471.2" r="1.2" fill="#000"/>
<line x1="162.5" y1="536.2" x2="162.5" y2="539.2" stroke="#0c0c0c" stroke-width="1"/>
<rect x="170.6" y="452.5" width="7.8" height="83.7" fill="#868686" stroke="#0a0a0a" stroke-width="1.05"/>
<line x1="174.5" y1="447.0" x2="174.5" y2="458.5" stroke="#666" stroke-width="0.85"/>
<line x1="172.5" y1="447.0" x2="176.5" y2="447.0" stroke="#666" stroke-width="0.85"/>
<line x1="172.5" y1="458.5" x2="176.5" y2="458.5" stroke="#666" stroke-width="0.85"/>
<circle cx="174.5" cy="447.5" r="1.2" fill="#000"/>
<circle cx="174.5" cy="468.4" r="1.2" fill="#000"/>
<line x1="174.5" y1="536.2" x2="174.5" y2="539.2" stroke="#0c0c0c" stroke-width="1"/>
<rect x="190.8" y="528.4" width="7.7" height="7.8" fill="#fff" stroke="#0a0a0a" stroke-width="1.05"/>
<line x1="194.7" y1="520.3" x2="194.7" y2="528.4" stroke="#666" stroke-width="0.85"/>
<line x1="192.7" y1="520.3" x2="196.7" y2="520.3" stroke="#666" stroke-width="0.85"/>
<circle cx="194.7" cy="520.3" r="1.2" fill="#000"/>
<circle cx="194.7" cy="534.3" r="1.2" fill="#000"/>
<line x1="194.7" y1="536.2" x2="194.7" y2="539.2" stroke="#0c0c0c" stroke-width="1"/>
<rect x="202.3" y="533.3" width="8.1" height="2.9" fill="#868686" stroke="#0a0a0a" stroke-width="1.05"/>
<line x1="206.4" y1="529.5" x2="206.4" y2="533.3" stroke="#666" stroke-width="0.85"/>
<line x1="204.4" y1="529.5" x2="208.4" y2="529.5" stroke="#666" stroke-width="0.85"/>
<circle cx="206.4" cy="526.9" r="1.2" fill="#000"/>
<circle cx="206.4" cy="533.0" r="1.2" fill="#000"/>
<line x1="206.4" y1="536.2" x2="206.4" y2="539.2" stroke="#0c0c0c" stroke-width="1"/>
<rect x="221.9" y="515.4" width="7.8" height="20.8" fill="#fff" stroke="#0a0a0a" stroke-width="1.05"/>
<line x1="225.8" y1="510.2" x2="225.8" y2="515.4" stroke="#666" stroke-width="0.85"/>
<line x1="223.8" y1="510.2" x2="227.8" y2="510.2" stroke="#666" stroke-width="0.85"/>
<circle cx="225.8" cy="510.0" r="1.2" fill="#000"/>
<circle cx="225.8" cy="515.5" r="1.2" fill="#000"/>
<line x1="225.8" y1="536.2" x2="225.8" y2="539.2" stroke="#0c0c0c" stroke-width="1"/>
<rect x="234.0" y="519.4" width="7.8" height="16.8" fill="#868686" stroke="#0a0a0a" stroke-width="1.05"/>
<line x1="237.9" y1="516.0" x2="237.9" y2="519.4" stroke="#666" stroke-width="0.85"/>
<line x1="235.9" y1="516.0" x2="239.9" y2="516.0" stroke="#666" stroke-width="0.85"/>
<circle cx="235.9" cy="516.5" r="1.2" fill="#000"/>
<circle cx="239.4" cy="514.8" r="1.2" fill="#000"/>
<circle cx="240.4" cy="517.5" r="1.2" fill="#000"/>
<line x1="237.9" y1="536.2" x2="237.9" y2="539.2" stroke="#0c0c0c" stroke-width="1"/>
<text x="58.6" y="552.2" font-size="10.5" font-weight="bold" text-anchor="end">Dox:</text>
<text x="60.0" y="567.2" font-size="9.8" font-weight="bold" text-anchor="end">NK-92:</text>
<text x="66.2" y="552.4" font-size="10.5" font-weight="bold" text-anchor="middle">-</text>
<text x="76.4" y="552.4" font-size="10.5" font-weight="bold" text-anchor="middle">+</text>
<text x="99.2" y="552.4" font-size="10.5" font-weight="bold" text-anchor="middle">-</text>
<text x="109.4" y="552.4" font-size="10.5" font-weight="bold" text-anchor="middle">+</text>
<text x="131.6" y="552.4" font-size="10.5" font-weight="bold" text-anchor="middle">-</text>
<text x="142.6" y="552.4" font-size="10.5" font-weight="bold" text-anchor="middle">+</text>
<text x="162.5" y="552.4" font-size="10.5" font-weight="bold" text-anchor="middle">-</text>
<text x="174.9" y="552.4" font-size="10.5" font-weight="bold" text-anchor="middle">+</text>
<text x="195.1" y="552.4" font-size="10.5" font-weight="bold" text-anchor="middle">-</text>
<text x="206.0" y="552.4" font-size="10.5" font-weight="bold" text-anchor="middle">+</text>
<text x="226.0" y="552.4" font-size="10.5" font-weight="bold" text-anchor="middle">-</text>
<text x="238.9" y="552.4" font-size="10.5" font-weight="bold" text-anchor="middle">+</text>
<line x1="60.0" y1="555.6" x2="82.5" y2="555.6" stroke="#0c0c0c" stroke-width="1"/>
<line x1="92.0" y1="555.6" x2="115.0" y2="555.6" stroke="#0c0c0c" stroke-width="1"/>
<line x1="125.9" y1="555.6" x2="148.9" y2="555.6" stroke="#0c0c0c" stroke-width="1"/>
<line x1="159.0" y1="555.6" x2="182.1" y2="555.6" stroke="#0c0c0c" stroke-width="1"/>
<line x1="190.2" y1="555.6" x2="213.3" y2="555.6" stroke="#0c0c0c" stroke-width="1"/>
<line x1="221.6" y1="555.6" x2="245.0" y2="555.6" stroke="#0c0c0c" stroke-width="1"/>
<text x="75.7" y="567.2" font-size="9.5" font-weight="bold" text-anchor="middle">-</text>
<text x="108.7" y="567.2" font-size="9.5" font-weight="bold" text-anchor="middle">+</text>
<text x="142.6" y="567.2" font-size="9.5" font-weight="bold" text-anchor="middle">-</text>
<text x="174.0" y="567.2" font-size="9.5" font-weight="bold" text-anchor="middle">+</text>
<text x="205.2" y="567.2" font-size="9.5" font-weight="bold" text-anchor="middle">-</text>
<text x="234.9" y="567.2" font-size="9.5" font-weight="bold" text-anchor="middle">+</text>
<line x1="61.2" y1="569.4" x2="114.5" y2="569.4" stroke="#0c0c0c" stroke-width="1"/>
<line x1="127.9" y1="569.4" x2="180.7" y2="569.4" stroke="#0c0c0c" stroke-width="1"/>
<line x1="192.2" y1="569.4" x2="245.0" y2="569.4" stroke="#0c0c0c" stroke-width="1"/>
<text x="88.5" y="582.5" font-size="9.7" text-anchor="middle">USP6/RD-ES</text>
<text x="154.7" y="580.9" font-size="9.7" text-anchor="middle">USP6</text>
<text x="154.9" y="592.9" font-size="9.7" text-anchor="middle">IFNAR1 KO</text>
<text x="219.0" y="580.9" font-size="9.7" text-anchor="middle">USP6</text>
<text x="219.3" y="592.9" font-size="9.7" text-anchor="middle">IFNGR1 KO</text>
<line x1="321.7" y1="425.0" x2="321.7" y2="538.1" stroke="#0c0c0c" stroke-width="1"/>
<line x1="321.7" y1="537.6" x2="505.8" y2="537.6" stroke="#0c0c0c" stroke-width="1"/>
<line x1="319.1" y1="425.5" x2="321.7" y2="425.5" stroke="#0c0c0c" stroke-width="1"/>
<text x="316.0" y="430.2" font-size="9.8" text-anchor="end">1</text>
<line x1="319.1" y1="444.2" x2="321.7" y2="444.2" stroke="#0c0c0c" stroke-width="1"/>
<text x="318.4" y="448.8" text-anchor="end" font-size="9.8">10<tspan font-size="6.5" dy="-3.3">-1</tspan></text>
<line x1="319.1" y1="462.9" x2="321.7" y2="462.9" stroke="#0c0c0c" stroke-width="1"/>
<text x="318.4" y="467.5" text-anchor="end" font-size="9.8">10<tspan font-size="6.5" dy="-3.3">-2</tspan></text>
<line x1="319.1" y1="481.6" x2="321.7" y2="481.6" stroke="#0c0c0c" stroke-width="1"/>
<text x="318.4" y="486.2" text-anchor="end" font-size="9.8">10<tspan font-size="6.5" dy="-3.3">-3</tspan></text>
<line x1="319.1" y1="500.2" x2="321.7" y2="500.2" stroke="#0c0c0c" stroke-width="1"/>
<text x="318.4" y="504.8" text-anchor="end" font-size="9.8">10<tspan font-size="6.5" dy="-3.3">-4</tspan></text>
<line x1="319.1" y1="518.9" x2="321.7" y2="518.9" stroke="#0c0c0c" stroke-width="1"/>
<text x="318.4" y="523.5" text-anchor="end" font-size="9.8">10<tspan font-size="6.5" dy="-3.3">-5</tspan></text>
<line x1="319.1" y1="537.6" x2="321.7" y2="537.6" stroke="#0c0c0c" stroke-width="1"/>
<text x="318.4" y="542.2" text-anchor="end" font-size="9.8">10<tspan font-size="6.5" dy="-3.3">-6</tspan></text>
<text transform="translate(295.5 484.0) rotate(-90)" text-anchor="middle" font-size="10.5" font-weight="bold">Relative expression</text>
<text x="417.6" y="426.7" font-size="11.7" font-weight="bold">CXCL10 mRNA</text>
<rect x="326.2" y="498.2" width="7.5" height="39.4" fill="#fff" stroke="#0a0a0a" stroke-width="1.05"/>
<line x1="329.9" y1="492.5" x2="329.9" y2="518.0" stroke="#666" stroke-width="0.85"/>
<line x1="327.9" y1="492.5" x2="331.9" y2="492.5" stroke="#666" stroke-width="0.85"/>
<line x1="327.9" y1="518.0" x2="331.9" y2="518.0" stroke="#666" stroke-width="0.85"/>
<circle cx="329.9" cy="493.0" r="1.2" fill="#000"/>
<circle cx="329.9" cy="497.5" r="1.2" fill="#000"/>
<circle cx="329.9" cy="522.5" r="1.2" fill="#000"/>
<line x1="329.9" y1="537.6" x2="329.9" y2="540.6" stroke="#0c0c0c" stroke-width="1"/>
<rect x="337.5" y="444.5" width="8.0" height="93.1" fill="#868686" stroke="#0a0a0a" stroke-width="1.05"/>
<line x1="341.5" y1="437.5" x2="341.5" y2="444.5" stroke="#666" stroke-width="0.85"/>
<line x1="339.5" y1="437.5" x2="343.5" y2="437.5" stroke="#666" stroke-width="0.85"/>
<circle cx="341.5" cy="437.5" r="1.2" fill="#000"/>
<circle cx="341.5" cy="447.5" r="1.2" fill="#000"/>
<circle cx="341.5" cy="513.7" r="1.2" fill="#000"/>
<line x1="341.5" y1="537.6" x2="341.5" y2="540.6" stroke="#0c0c0c" stroke-width="1"/>
<rect x="357.5" y="448.0" width="7.5" height="89.6" fill="#fff" stroke="#0a0a0a" stroke-width="1.05"/>
<line x1="361.2" y1="443.0" x2="361.2" y2="460.0" stroke="#666" stroke-width="0.85"/>
<line x1="359.2" y1="443.0" x2="363.2" y2="443.0" stroke="#666" stroke-width="0.85"/>
<line x1="359.2" y1="460.0" x2="363.2" y2="460.0" stroke="#666" stroke-width="0.85"/>
<circle cx="361.2" cy="442.5" r="1.2" fill="#000"/>
<circle cx="361.2" cy="450.0" r="1.2" fill="#000"/>
<circle cx="361.2" cy="454.0" r="1.2" fill="#000"/>
<line x1="361.2" y1="537.6" x2="361.2" y2="540.6" stroke="#0c0c0c" stroke-width="1"/>
<rect x="369.2" y="425.2" width="7.5" height="112.4" fill="#868686" stroke="#0a0a0a" stroke-width="1.05"/>
<circle cx="370.4" cy="425.2" r="1.2" fill="#000"/>
<circle cx="372.9" cy="425.2" r="1.2" fill="#000"/>
<circle cx="375.4" cy="425.2" r="1.2" fill="#000"/>
<line x1="372.9" y1="537.6" x2="372.9" y2="540.6" stroke="#0c0c0c" stroke-width="1"/>
<rect x="388.2" y="490.3" width="7.8" height="47.3" fill="#fff" stroke="#0a0a0a" stroke-width="1.05"/>
<line x1="392.1" y1="487.0" x2="392.1" y2="494.0" stroke="#666" stroke-width="0.85"/>
<line x1="390.1" y1="487.0" x2="394.1" y2="487.0" stroke="#666" stroke-width="0.85"/>
<line x1="390.1" y1="494.0" x2="394.1" y2="494.0" stroke="#666" stroke-width="0.85"/>
<circle cx="392.1" cy="486.0" r="1.2" fill="#000"/>
<circle cx="390.3" cy="492.5" r="1.2" fill="#000"/>
<circle cx="393.9" cy="492.0" r="1.2" fill="#000"/>
<line x1="392.1" y1="537.6" x2="392.1" y2="540.6" stroke="#0c0c0c" stroke-width="1"/>
<rect x="400.3" y="470.7" width="7.8" height="66.9" fill="#868686" stroke="#0a0a0a" stroke-width="1.05"/>
<line x1="404.2" y1="467.5" x2="404.2" y2="474.5" stroke="#666" stroke-width="0.85"/>
<line x1="402.2" y1="467.5" x2="406.2" y2="467.5" stroke="#666" stroke-width="0.85"/>
<line x1="402.2" y1="474.5" x2="406.2" y2="474.5" stroke="#666" stroke-width="0.85"/>
<circle cx="404.2" cy="466.9" r="1.2" fill="#000"/>
<circle cx="404.2" cy="473.5" r="1.2" fill="#000"/>
<line x1="404.2" y1="537.6" x2="404.2" y2="540.6" stroke="#0c0c0c" stroke-width="1"/>
<rect x="419.6" y="456.8" width="8.1" height="80.8" fill="#fff" stroke="#0a0a0a" stroke-width="1.05"/>
<line x1="423.6" y1="451.9" x2="423.6" y2="469.2" stroke="#666" stroke-width="0.85"/>
<line x1="421.6" y1="451.9" x2="425.6" y2="451.9" stroke="#666" stroke-width="0.85"/>
<line x1="421.6" y1="469.2" x2="425.6" y2="469.2" stroke="#666" stroke-width="0.85"/>
<circle cx="423.6" cy="451.5" r="1.2" fill="#000"/>
<circle cx="421.8" cy="460.5" r="1.2" fill="#000"/>
<circle cx="425.4" cy="460.0" r="1.2" fill="#000"/>
<line x1="423.6" y1="537.6" x2="423.6" y2="540.6" stroke="#0c0c0c" stroke-width="1"/>
<rect x="431.4" y="444.7" width="7.8" height="92.9" fill="#868686" stroke="#0a0a0a" stroke-width="1.05"/>
<line x1="435.3" y1="438.9" x2="435.3" y2="464.0" stroke="#666" stroke-width="0.85"/>
<line x1="433.3" y1="438.9" x2="437.3" y2="438.9" stroke="#666" stroke-width="0.85"/>
<line x1="433.3" y1="464.0" x2="437.3" y2="464.0" stroke="#666" stroke-width="0.85"/>
<circle cx="435.3" cy="438.5" r="1.2" fill="#000"/>
<circle cx="435.3" cy="446.0" r="1.2" fill="#000"/>
<circle cx="435.3" cy="454.0" r="1.2" fill="#000"/>
<line x1="435.3" y1="537.6" x2="435.3" y2="540.6" stroke="#0c0c0c" stroke-width="1"/>
<rect x="451.3" y="502.4" width="7.2" height="35.2" fill="#fff" stroke="#0a0a0a" stroke-width="1.05"/>
<line x1="454.9" y1="497.2" x2="454.9" y2="508.0" stroke="#666" stroke-width="0.85"/>
<line x1="452.9" y1="497.2" x2="456.9" y2="497.2" stroke="#666" stroke-width="0.85"/>
<line x1="452.9" y1="508.0" x2="456.9" y2="508.0" stroke="#666" stroke-width="0.85"/>
<circle cx="454.9" cy="497.5" r="1.2" fill="#000"/>
<circle cx="454.9" cy="502.5" r="1.2" fill="#000"/>
<circle cx="454.9" cy="511.5" r="1.2" fill="#000"/>
<line x1="454.9" y1="537.6" x2="454.9" y2="540.6" stroke="#0c0c0c" stroke-width="1"/>
<rect x="462.3" y="494.0" width="8.1" height="43.6" fill="#868686" stroke="#0a0a0a" stroke-width="1.05"/>
<line x1="466.4" y1="489.5" x2="466.4" y2="500.5" stroke="#666" stroke-width="0.85"/>
<line x1="464.4" y1="489.5" x2="468.4" y2="489.5" stroke="#666" stroke-width="0.85"/>
<line x1="464.4" y1="500.5" x2="468.4" y2="500.5" stroke="#666" stroke-width="0.85"/>
<circle cx="466.4" cy="489.0" r="1.2" fill="#000"/>
<circle cx="466.4" cy="494.5" r="1.2" fill="#000"/>
<circle cx="466.4" cy="500.5" r="1.2" fill="#000"/>
<line x1="466.4" y1="537.6" x2="466.4" y2="540.6" stroke="#0c0c0c" stroke-width="1"/>
<rect x="482.5" y="480.8" width="7.2" height="56.8" fill="#fff" stroke="#0a0a0a" stroke-width="1.05"/>
<line x1="486.1" y1="478.5" x2="486.1" y2="483.5" stroke="#666" stroke-width="0.85"/>
<line x1="484.1" y1="478.5" x2="488.1" y2="478.5" stroke="#666" stroke-width="0.85"/>
<line x1="484.1" y1="483.5" x2="488.1" y2="483.5" stroke="#666" stroke-width="0.85"/>
<circle cx="484.9" cy="478.0" r="1.2" fill="#000"/>
<circle cx="487.3" cy="479.5" r="1.2" fill="#000"/>
<circle cx="486.4" cy="485.0" r="1.2" fill="#000"/>
<line x1="486.1" y1="537.6" x2="486.1" y2="540.6" stroke="#0c0c0c" stroke-width="1"/>
<rect x="494.0" y="477.9" width="8.1" height="59.7" fill="#868686" stroke="#0a0a0a" stroke-width="1.05"/>
<line x1="498.1" y1="476.8" x2="498.1" y2="477.9" stroke="#666" stroke-width="0.85"/>
<line x1="496.1" y1="476.8" x2="500.1" y2="476.8" stroke="#666" stroke-width="0.85"/>
<circle cx="496.6" cy="477.3" r="1.2" fill="#000"/>
<circle cx="499.1" cy="476.6" r="1.2" fill="#000"/>
<circle cx="501.1" cy="477.3" r="1.2" fill="#000"/>
<line x1="498.1" y1="537.6" x2="498.1" y2="540.6" stroke="#0c0c0c" stroke-width="1"/>
<text x="320.6" y="552.2" font-size="10.5" font-weight="bold" text-anchor="end">Dox:</text>
<text x="321.2" y="567.4" font-size="10.2" font-weight="bold" text-anchor="end">NK92:</text>
<text x="328.0" y="552.4" font-size="10.5" font-weight="bold" text-anchor="middle">-</text>
<text x="338.8" y="552.4" font-size="10.5" font-weight="bold" text-anchor="middle">+</text>
<text x="361.2" y="552.4" font-size="10.5" font-weight="bold" text-anchor="middle">-</text>
<text x="372.0" y="552.4" font-size="10.5" font-weight="bold" text-anchor="middle">+</text>
<text x="394.5" y="552.4" font-size="10.5" font-weight="bold" text-anchor="middle">-</text>
<text x="405.2" y="552.4" font-size="10.5" font-weight="bold" text-anchor="middle">+</text>
<text x="425.7" y="552.4" font-size="10.5" font-weight="bold" text-anchor="middle">-</text>
<text x="438.4" y="552.4" font-size="10.5" font-weight="bold" text-anchor="middle">+</text>
<text x="458.0" y="552.4" font-size="10.5" font-weight="bold" text-anchor="middle">-</text>
<text x="468.6" y="552.4" font-size="10.5" font-weight="bold" text-anchor="middle">+</text>
<text x="488.3" y="552.4" font-size="10.5" font-weight="bold" text-anchor="middle">-</text>
<text x="501.8" y="552.4" font-size="10.5" font-weight="bold" text-anchor="middle">+</text>
<line x1="322.5" y1="556.0" x2="345.5" y2="556.0" stroke="#0c0c0c" stroke-width="1"/>
<line x1="355.0" y1="556.0" x2="377.5" y2="556.0" stroke="#0c0c0c" stroke-width="1"/>
<line x1="388.7" y1="556.0" x2="411.8" y2="556.0" stroke="#0c0c0c" stroke-width="1"/>
<line x1="421.3" y1="556.0" x2="444.4" y2="556.0" stroke="#0c0c0c" stroke-width="1"/>
<line x1="453.6" y1="556.0" x2="476.1" y2="556.0" stroke="#0c0c0c" stroke-width="1"/>
<line x1="484.5" y1="556.0" x2="507.0" y2="556.0" stroke="#0c0c0c" stroke-width="1"/>
<text x="335.0" y="567.2" font-size="9.5" font-weight="bold" text-anchor="middle">-</text>
<text x="368.2" y="567.2" font-size="9.5" font-weight="bold" text-anchor="middle">+</text>
<text x="402.6" y="567.2" font-size="9.5" font-weight="bold" text-anchor="middle">-</text>
<text x="432.9" y="567.2" font-size="9.5" font-weight="bold" text-anchor="middle">+</text>
<text x="464.6" y="567.2" font-size="9.5" font-weight="bold" text-anchor="middle">-</text>
<text x="494.6" y="567.2" font-size="9.5" font-weight="bold" text-anchor="middle">+</text>
<line x1="323.0" y1="569.8" x2="377.5" y2="569.8" stroke="#0c0c0c" stroke-width="1"/>
<line x1="390.2" y1="569.8" x2="443.5" y2="569.8" stroke="#0c0c0c" stroke-width="1"/>
<line x1="455.1" y1="569.8" x2="507.9" y2="569.8" stroke="#0c0c0c" stroke-width="1"/>
<text x="351.0" y="581.7" font-size="9.7" text-anchor="middle">USP6/RD-ES</text>
<text x="416.1" y="580.9" font-size="9.7" text-anchor="middle">USP6</text>
<text x="417.3" y="592.9" font-size="9.7" text-anchor="middle">IFNAR1 KO</text>
<text x="481.9" y="580.9" font-size="9.7" text-anchor="middle">USP6</text>
<text x="481.8" y="592.9" font-size="9.7" text-anchor="middle">IFNGR1 KO</text>
</svg>
</body>
</html>
